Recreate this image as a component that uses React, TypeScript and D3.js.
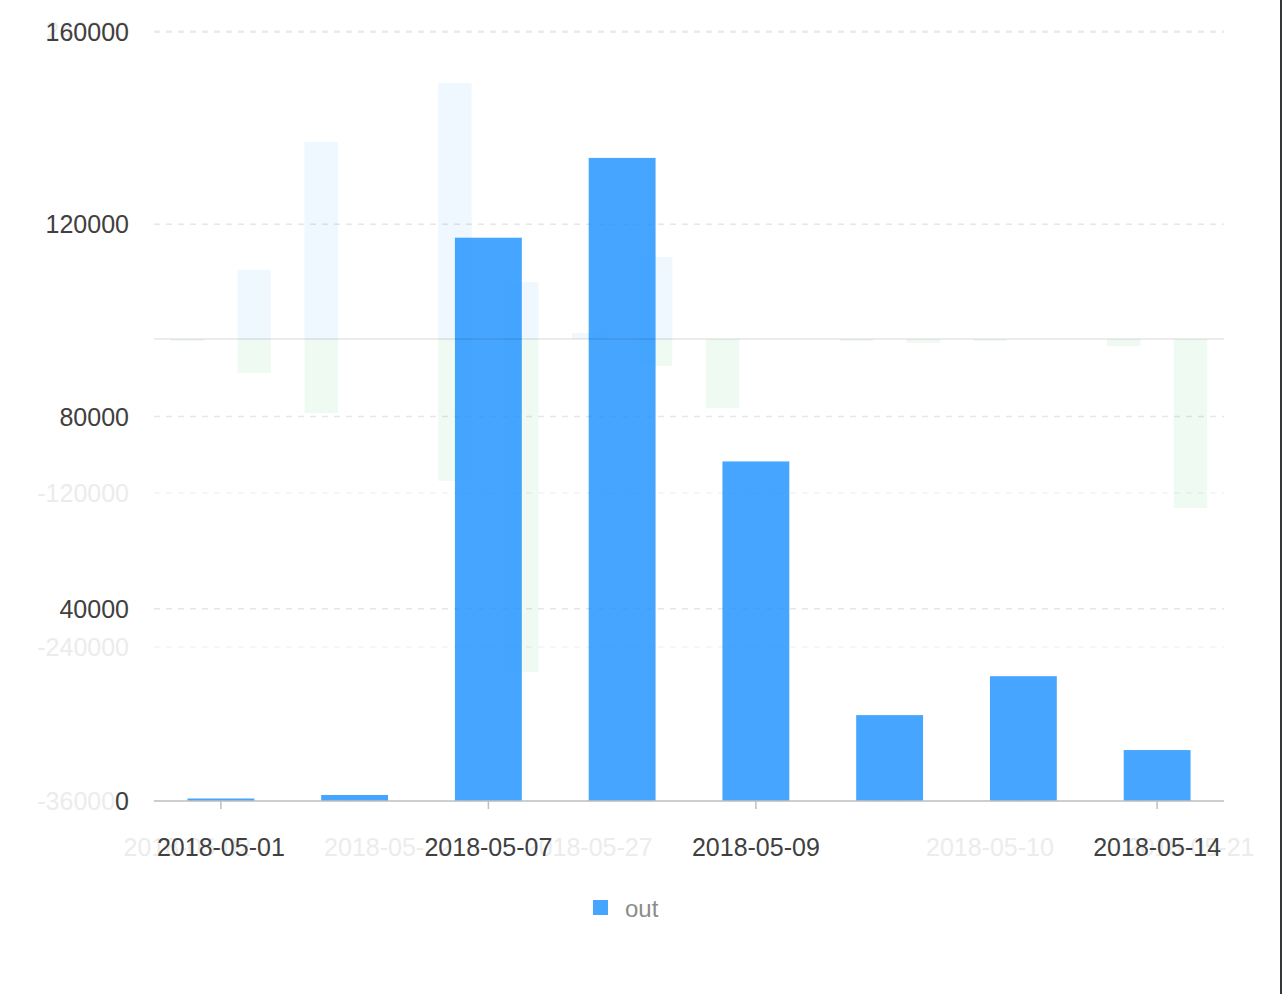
import React from 'react';
import * as d3 from 'd3';

const outDates = ['2018-05-01', '2018-05-04', '2018-05-07', '2018-05-08', '2018-05-09', '2018-05-10', '2018-05-11', '2018-05-14'];
const outValues = [520, 1250, 117200, 133800, 70650, 17870, 25970, 10600];
const outTickLabels = ['2018-05-01', '2018-05-07', '2018-05-09', '2018-05-14'];
const yTicks = [0, 40000, 80000, 120000, 160000];

// faded (ghost) chart behind
const ghostDates = ['2018-05-02', '2018-05-15', '2018-05-16', '2018-05-22', '2018-05-23', '2018-05-24', '2018-05-27', '2018-05-28',
  '2018-05-29', '2018-05-30', '2018-05-31', '2018-05-03', '2018-05-10', '2018-05-17', '2018-05-18', '2018-05-21'];
const ghostIn = [0, 53800, 153500, 0, 199500, 44400, 4700, 63900, 0, 0, 0, 0, 0, 0, 0, 0];
const ghostOut = [-1500, -26500, -57700, 0, -110600, -259500, 0, -21000, -53800, 0, -1500, -3100, -1500, 0, -5500, -131700];
const ghostTickLabels = ['2018-05-02', '2018-05-22', '2018-05-27', '2018-05-10', '2018-05-21'];
const ghostYTicks = [240000, -120000, -240000, -360000];

const W = 1282, H = 994;
const L = 154, R = 1224, T = 32, B = 801;
const FONT = '"Liberation Sans", Arial, sans-serif';

export default function App() {
  const x = d3.scaleBand<string>().domain(outDates).range([L, R]).paddingInner(0.5).paddingOuter(0.25);
  const y = d3.scaleLinear().domain([0, 160000]).range([B, T]);
  const gx = d3.scaleBand<string>().domain(ghostDates).range([L, R]).paddingInner(0.5).paddingOuter(0.25);
  const gy = d3.scaleLinear().domain([-360000, 240000]).range([B, 31]);

  return (
    <svg width={W} height={H} style={{ position: 'absolute', left: 0, top: 0, background: '#fff' }} fontFamily={FONT}>
      <rect x={0} y={0} width={W} height={H} fill="#fff" />
      {/* ghost grid */}
      {ghostYTicks.map((t) => (
        <line key={'gg' + t} x1={L} x2={R} y1={gy(t)} y2={gy(t)} stroke="#f4f4f4" strokeWidth={1.5} strokeDasharray="6,6" />
      ))}
      {/* main grid */}
      {yTicks.filter((t) => t > 0).map((t) => (
        <line key={'g' + t} x1={L} x2={R} y1={y(t)} y2={y(t)} stroke="#e6e6e6" strokeWidth={1.5} strokeDasharray="6,6" />
      ))}
      {/* ghost bars */}
      {ghostDates.map((d, i) => (
        <g key={'gb' + d}>
          {ghostIn[i] > 0 && (
            <rect x={gx(d)} width={gx.bandwidth()} y={gy(ghostIn[i])} height={gy(0) - gy(ghostIn[i])} fill="#1890ff" fillOpacity={0.07} />
          )}
          {ghostOut[i] < 0 && (
            <rect x={gx(d)} width={gx.bandwidth()} y={gy(0)} height={gy(ghostOut[i]) - gy(0)} fill="#2fc25b" fillOpacity={0.08} />
          )}
        </g>
      ))}
      {/* main bars */}
      {outDates.map((d, i) => (
        <rect key={'b' + d} x={x(d)} width={x.bandwidth()} y={y(outValues[i])} height={y(0) - y(outValues[i])} fill="#1890ff" fillOpacity={0.8} />
      ))}
      {/* ghost zero line */}
      <line x1={L} x2={R} y1={gy(0)} y2={gy(0)} stroke="#000" strokeOpacity={0.1} strokeWidth={1.5} />
      {/* ghost labels */}
      {ghostYTicks.map((t) => (
        <text key={'gyl' + t} x={129} y={gy(t)} textAnchor="end" dominantBaseline="central" fontSize={25} fill="#ececec">{t}</text>
      ))}
      {ghostTickLabels.map((d) => (
        <text key={'gxl' + d} x={(gx(d) as number) + gx.bandwidth() / 2} y={856} textAnchor="middle" fontSize={25} fill="#ececec">{d}</text>
      ))}
      {/* main axis */}
      <line x1={L} x2={R} y1={B} y2={B} stroke="#bfbfbf" strokeWidth={1.5} />
      {outTickLabels.map((d) => {
        const cx = (x(d) as number) + x.bandwidth() / 2;
        return (
          <g key={'xt' + d}>
            <line x1={cx} x2={cx} y1={B} y2={B + 8} stroke="#bfbfbf" strokeWidth={1.5} />
            <text x={cx} y={856} textAnchor="middle" fontSize={25} fill="#404040">{d}</text>
          </g>
        );
      })}
      {yTicks.map((t) => (
        <text key={'yl' + t} x={129} y={y(t)} textAnchor="end" dominantBaseline="central" fontSize={25} fill="#404040">{t}</text>
      ))}
      {/* legend */}
      <rect x={593} y={900} width={15} height={15} fill="#1890ff" fillOpacity={0.8} />
      <text x={625} y={908} dominantBaseline="central" fontSize={24} fill="#8c8c8c">out</text>
      {/* right border */}
      <rect x={1280} y={0} width={2} height={H} fill="#32373c" />
    </svg>
  );
}
